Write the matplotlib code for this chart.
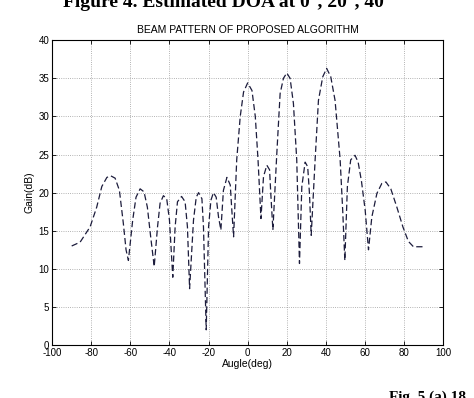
import numpy as np
import matplotlib.pyplot as plt

# beam pattern points (angle in deg, gain in dB)
angle = [-90.0, -85.7, -80.6, -77.2, -74.6, -72.0, -70.0, -67.8, -65.6, -63.6, -62.2, -61.0,
         -58.8, -57.1, -55.0, -53.0, -51.3, -49.6, -47.8,
         -46.1, -44.8, -43.1, -41.4, -40.0, -38.3,
         -37.1, -35.9, -33.8, -32.0, -30.8, -29.7,
         -27.7, -26.3, -25.1, -23.4, -22.6, -21.2,
         -20.0, -18.8, -17.5, -16.1, -14.9, -13.7,
         -12.4, -10.6, -8.9, -8.1, -7.2,
         -5.6, -3.8, -2.1, 0.0, 2.2, 3.9, 5.3, 6.8,
         8.1, 9.8, 11.2, 11.8, 12.9,
         14.9, 16.6, 18.3, 20.0, 21.7, 23.4, 25.1, 26.5,
         27.7, 29.4, 30.7, 31.6, 32.5,
         34.5, 36.2, 38.4, 40.4, 42.5, 44.7, 47.3, 48.6, 49.7,
         51.0, 52.7, 54.9, 56.5, 58.2, 60.1, 61.8,
         63.5, 66.1, 68.6, 70.7, 73.2, 76.3, 79.4, 82.2, 84.8, 90.0]
gain = [13.0, 13.5, 15.5, 18.1, 20.8, 22.0, 22.2, 21.9, 20.3, 16.0, 12.5, 11.1,
        16.4, 19.4, 20.5, 20.1, 18.1, 14.2, 10.3,
        15.5, 18.6, 19.6, 19.2, 16.4, 8.9,
        15.5, 18.8, 19.5, 18.8, 15.5, 7.4,
        16.4, 19.4, 20.0, 19.2, 15.5, 2.0,
        15.5, 19.0, 20.0, 19.4, 16.8, 15.1,
        20.3, 22.0, 21.0, 17.7, 14.2,
        24.3, 30.0, 33.2, 34.4, 33.4, 30.0, 24.3, 16.6,
        22.1, 23.6, 23.0, 20.0, 15.1,
        25.1, 33.0, 35.0, 35.7, 35.0, 31.7, 24.3, 10.7,
        20.8, 24.0, 23.4, 19.9, 14.4,
        24.3, 32.1, 35.2, 36.3, 35.2, 32.1, 24.3, 17.7, 11.1,
        20.8, 24.3, 24.9, 24.0, 21.5, 17.7, 12.5,
        16.8, 19.9, 21.2, 21.4, 20.5, 18.1, 15.5, 13.6, 12.9, 12.9]

xticks = [-100, -80, -60, -40, -20, 0, 20, 40, 60, 80, 100]
yticks = [0, 5, 10, 15, 20, 25, 30, 35, 40]

plt.rcParams['font.family'] = ['Liberation Sans', 'DejaVu Sans']
plt.rcParams['axes.unicode_minus'] = False

fig = plt.figure(figsize=(4.74, 3.98), dpi=100)
ax = fig.add_axes([0.110, 0.133, 0.825, 0.766])

ax.plot(angle, gain, color='#1c1c3c', linewidth=0.9, linestyle=(0, (5, 2.5)))

ax.set_xlim(-100, 100)
ax.set_ylim(0, 40)
ax.set_xticks(xticks)
ax.set_yticks(yticks)
ax.tick_params(direction='in', length=3, width=0.6, labelsize=7,
               top=True, right=True, pad=2)
ax.grid(True, linestyle=':', color='#9a9a9a', linewidth=0.6)
for s in ax.spines.values():
    s.set_linewidth(0.8)

ax.set_title('BEAM PATTERN OF PROPOSED ALGORITHM', fontsize=7.5, pad=5)
ax.set_xlabel('Augle(deg)', fontsize=7.5, labelpad=1)
ax.set_ylabel('Gain(dB)', fontsize=7.5, labelpad=3)

# caption text of the page, cut by the crop
fig.text(0.48, 0.983, 'Figure 4. Estimated DOA at 0°, 20°, 40°', ha='center',
         va='baseline', fontsize=14, fontweight='bold', family='Liberation Serif')
fig.text(0.82, 0.018, 'Fig. 5 (a) 18', ha='left', va='top',
         fontsize=11, fontweight='bold', family='Liberation Serif')

fig.savefig('out.png', dpi=100)
